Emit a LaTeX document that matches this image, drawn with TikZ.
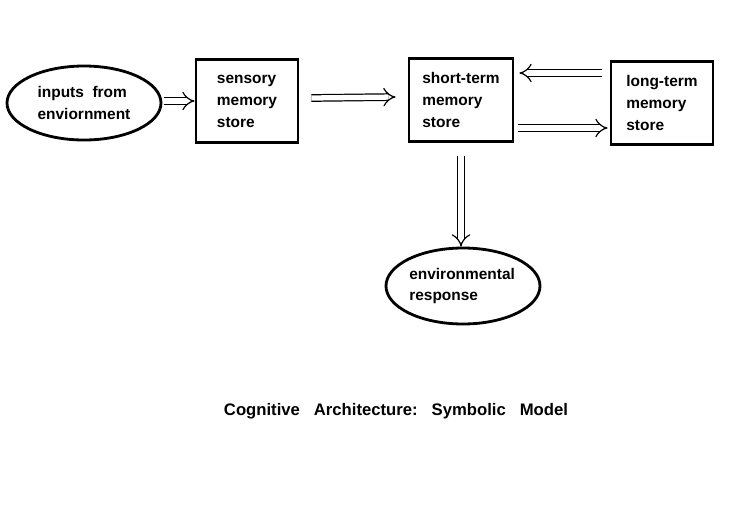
\documentclass[tikz,border=0pt]{standalone}
\usepackage{fontspec}
\setmainfont{Liberation Sans}
\usetikzlibrary{shapes.geometric,arrows.meta}

\begin{document}
\begin{tikzpicture}[x=0.02cm,y=-0.02cm,
    box/.style={draw, line width=1.6pt, align=left, font=\bfseries\fontsize{8.8}{12.5}\selectfont},
    blob/.style={draw, ellipse, line width=1.6pt, inner sep=0pt, align=left, font=\bfseries\fontsize{8.8}{12.5}\selectfont},
    flow/.style={double, double distance=3pt, line width=0.7pt, -{Implies}}]
    % page
    \useasboundingbox (0,0) rectangle (752,511);

    % stores
    \node[blob, minimum width=154*0.02cm, minimum height=74*0.02cm] (inp) at (84,103) {inputs\ \ from\\enviornment};
    \node[box, minimum width=102*0.02cm, minimum height=83*0.02cm] (sens) at (247,101) {sensory\\memory\\store};
    \node[box, minimum width=104*0.02cm, minimum height=83*0.02cm] (stm) at (461,100) {short-term\\memory\\store\ \ \ \ \ \ \ \ };
    \node[box, minimum width=102*0.02cm, minimum height=83*0.02cm] (ltm) at (662,103) {long-term\\memory\\store};
    \node[blob, minimum width=154*0.02cm, minimum height=76*0.02cm] (resp) at (463,286) {environmental\\response\ \ \ \ \ \ \ \ \ \ };

    % connectors
    \draw[flow] (inp.east) ++(2,-2) coordinate (a1) -- (a1 -| sens.west);
    \draw[flow] ([xshift=12*0.02cm,yshift=3*0.02cm]sens.east) -- ([xshift=-12*0.02cm,yshift=3*0.02cm]stm.west);
    \draw[flow] ([xshift=-8*0.02cm,yshift=30*0.02cm]ltm.west) -- ([xshift=5*0.02cm,yshift=27*0.02cm]stm.east);
    \draw[flow] ([xshift=4*0.02cm,yshift=-28*0.02cm]stm.east) -- ([xshift=-2*0.02cm,yshift=-25*0.02cm]ltm.west);
    \draw[flow] ([yshift=-13*0.02cm]stm.south) -- (resp.north -| stm.south);

    \node[font=\bfseries\fontsize{9.5}{12}\selectfont] (cap) at (396,411) {Cognitive\ \ \ Architecture:\ \ \ Symbolic\ \ \ Model};
\end{tikzpicture}
\end{document}
